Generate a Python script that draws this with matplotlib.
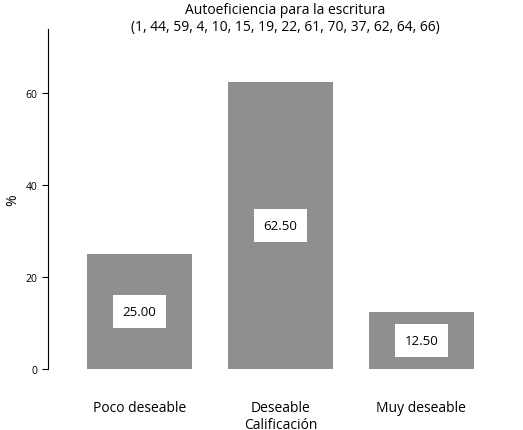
import matplotlib
matplotlib.use("Agg")
import matplotlib.pyplot as plt

categories = ["Poco deseable", "Deseable", "Muy deseable"]
values = [25.00, 62.50, 12.50]
yticks = [0, 20, 40, 60]

plt.rcParams['font.family'] = ['Open Sans', 'DejaVu Sans']
fig = plt.figure(figsize=(5.23, 4.31), dpi=100)
ax = fig.add_axes([48/523, 1-370/431, 465/523, 340/431])
x = range(len(categories))
ax.bar(x, values, width=0.75, color="#8e8f91")
for xi, v in zip(x, values):
    ax.text(xi, v/2, f"{v:.2f}", ha="center", va="center", fontsize=9.5,
            bbox=dict(boxstyle="square,pad=0.75", fc="white", ec="none"))
ax.set_xlim(-0.65, 2.65)
ax.set_ylim(0, 74)
ax.set_yticks(yticks)
ax.set_yticklabels([str(t) for t in yticks], fontsize=7.5)
ax.set_xticks(list(x))
ax.set_xticklabels(categories, fontsize=10)
ax.tick_params(axis='x', length=0, pad=22)
ax.tick_params(axis='y', length=4)
for s in ["top", "right", "bottom"]:
    ax.spines[s].set_visible(False)
ax.spines["left"].set_linewidth(0.8)
ax.set_ylabel("%", fontsize=10, labelpad=4)
ax.set_xlabel("Calificación", fontsize=10, labelpad=2)
fig.text(285/523, 1-11/431, "Autoeficiencia para la escritura", ha="center", va="center", fontsize=10)
fig.text(285/523, 1-28/431, "(1, 44, 59, 4, 10, 15, 19, 22, 61, 70, 37, 62, 64, 66)", ha="center", va="center", fontsize=10)
fig.savefig("out.png", dpi=100)
